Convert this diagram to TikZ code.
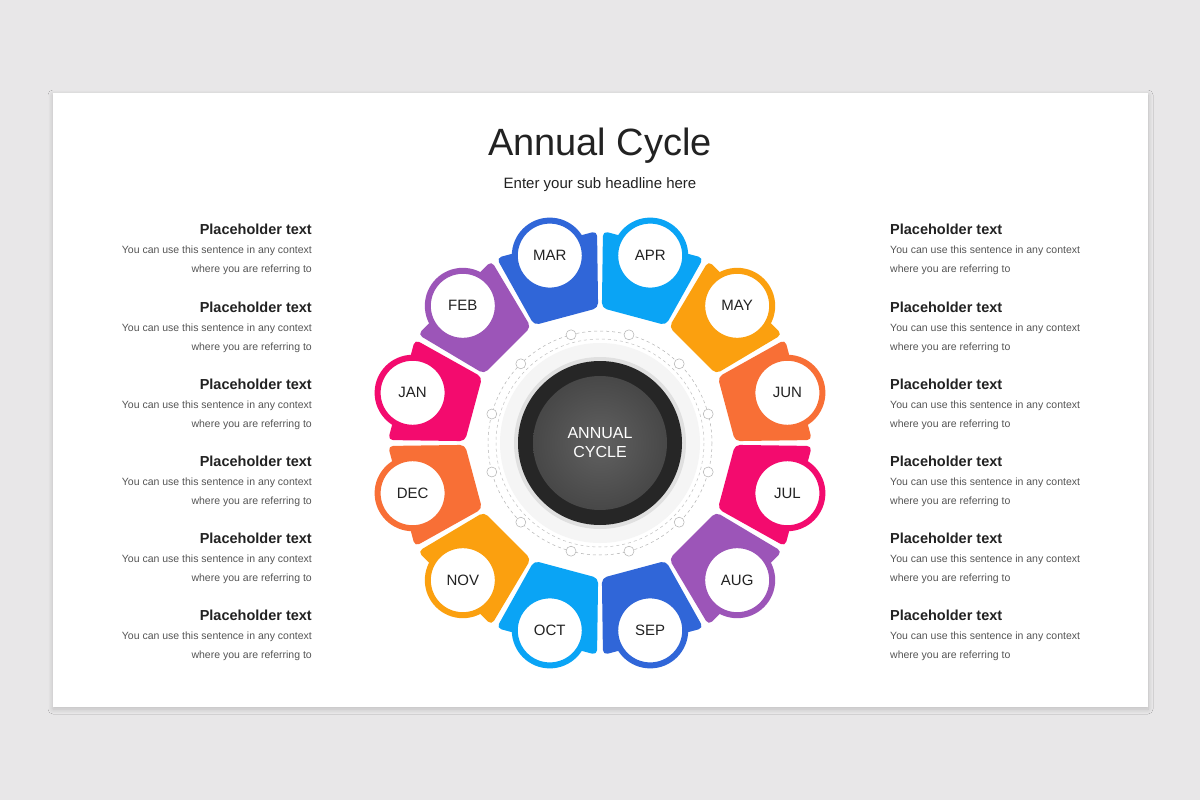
\documentclass[tikz,border=0pt]{standalone}
\usepackage{fontspec}
\setmainfont{Liberation Sans}
\usetikzlibrary{shadows.blur}
\definecolor{bg}{HTML}{E8E7E8}
\definecolor{cBlue}{HTML}{3066D8}
\definecolor{cSky}{HTML}{0AA4F5}
\definecolor{cGold}{HTML}{FBA00F}
\definecolor{cOrange}{HTML}{F86F36}
\definecolor{cPink}{HTML}{F30B6E}
\definecolor{cPurple}{HTML}{9C55B8}
\definecolor{txt}{HTML}{222222}
\definecolor{sub}{HTML}{555555}
\tikzset{
 monthc/.style={circle,draw=#1,line width=6pt,fill=white,minimum size=70pt,inner sep=0pt,font=\fontsize{15}{15}\selectfont,text=txt},
 headl/.style={anchor=base east,inner sep=0pt,font=\bfseries\fontsize{14.5}{15}\selectfont,text=txt},
 bodyl/.style={anchor=base east,inner sep=0pt,font=\fontsize{10.5}{11}\selectfont,text=sub},
 headr/.style={anchor=base west,inner sep=0pt,font=\bfseries\fontsize{14.5}{15}\selectfont,text=txt},
 bodyr/.style={anchor=base west,inner sep=0pt,font=\fontsize{10.5}{11}\selectfont,text=sub},
}
\begin{document}
\begin{tikzpicture}[x=1pt,y=-1pt]
\fill[bg] (0,0) rectangle (1200,800);
\useasboundingbox (0,0) rectangle (1200,800);
\fill[white,blur shadow={shadow blur steps=10,shadow xshift=0pt,shadow yshift=-2pt,shadow opacity=18,shadow blur radius=5pt}] (53,93) rectangle (1148,707);
\node[font=\fontsize{38}{38}\selectfont,text=txt,anchor=base] (title) at (600,155) {Annual Cycle};
\node[font=\fontsize{15}{15}\selectfont,text=txt,anchor=base] (subt) at (600,188) {Enter your sub headline here};
\foreach \i/\y in {1/229,2/307,3/384,4/461,5/538,6/615}{
 \node[headl] (lh\i) at (312,\y+5) {Placeholder text};
 \node[bodyl] (lb\i) at (312,\y+24) {You can use this sentence in any context};
 \node[bodyl] (lc\i) at (312,\y+43) {where you are referring to};
 \node[headr] (rh\i) at (890,\y+5) {Placeholder text};
 \node[bodyr] (rb\i) at (890,\y+24) {You can use this sentence in any context};
 \node[bodyr] (rc\i) at (890,\y+43) {where you are referring to};
}
\coordinate (C) at (600,443);
\foreach \a/\col/\m in {105/cBlue/MAR,75/cSky/APR,45/cGold/MAY,15/cOrange/JUN,-15/cPink/JUL,-45/cPurple/AUG,-75/cBlue/SEP,-105/cSky/OCT,-135/cGold/NOV,-165/cOrange/DEC,165/cPink/JAN,135/cPurple/FEB}{
 \fill[\col,rounded corners=5pt] ($(C)+({cos(\a+14.2)*135},{-sin(\a+14.2)*135})$)
   -- ($(C)+({cos(\a+14.2)*212},{-sin(\a+14.2)*212})$)
   -- ($(C)+({cos(\a-14.2)*212},{-sin(\a-14.2)*212})$)
   -- ($(C)+({cos(\a-14.2)*135},{-sin(\a-14.2)*135})$) -- cycle;
 \node[monthc=\col] (m\m) at ($(C)+({cos(\a)*194},{-sin(\a)*194})$) {\m};
}
\fill[white!96!black] (C) circle (100);
\draw[gray!60,dashed,line width=0.5pt] (C) circle (112);
\draw[gray!50,dashed,line width=0.5pt] (C) circle (104);
\foreach \a in {15,45,...,345}{
 \draw[gray!60,fill=white,line width=0.5pt] ($(C)+({cos(\a)*112},{-sin(\a)*112})$) circle (5);
}
\fill[black!12] (C) circle (86);
\fill[black!85] (C) circle (82);
\shade[inner color=black!62,outer color=black!72] (C) circle (67);
\node[align=center,text=white,font=\fontsize{16}{19}\selectfont] (ctr) at (C) {ANNUAL\\CYCLE};
\end{tikzpicture}
\end{document}
